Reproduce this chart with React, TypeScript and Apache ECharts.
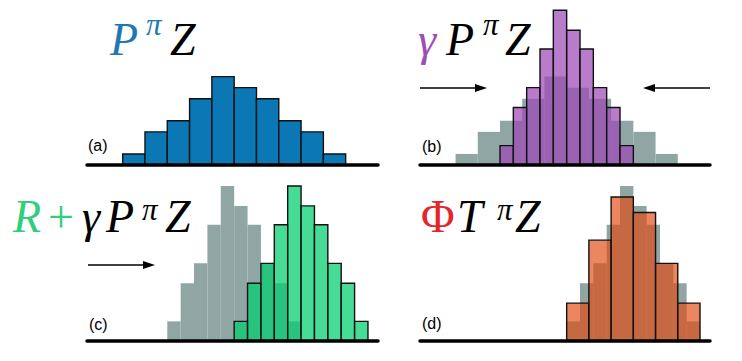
import React, { useEffect, useRef } from "react";
import * as echarts from "echarts";

// ---------- data (bin edges in support units, heights in probability units) ----------
const edgesA = [-5, -4, -3, -2, -1, 0, 1, 2, 3, 4, 5];
const valuesA = [1, 3, 4, 6, 8, 7, 6, 4, 3, 1];

const edgesBGrey = [-5, -4, -3, -2, -1, 0, 1, 2, 3, 4, 5];
const valuesBGrey = [1, 3, 4, 6, 8, 7, 6, 4, 3, 1];
const edgesBPurple = [-3, -2.4, -1.8, -1.2, -0.6, 0, 0.6, 1.2, 1.8, 2.4, 3];
const valuesBPurple = [1.75, 5.2, 7, 10.5, 14, 12.2, 10.5, 7, 5.2, 1.75];

const edgesCGrey = [-3, -2.4, -1.8, -1.2, -0.6, 0, 0.6, 1.2, 1.8, 2.4, 3];
const valuesCGrey = [1.75, 5.2, 7, 10.5, 14, 12.2, 10.5, 7, 5.2, 1.75];
const edgesCGreen = [0, 0.6, 1.2, 1.8, 2.4, 3, 3.6, 4.2, 4.8, 5.4, 6];
const valuesCGreen = [1.75, 5.2, 7, 10.5, 14, 12.2, 10.5, 7, 5.2, 1.75];

const edgesDGrey = [0, 0.6, 1.2, 1.8, 2.4, 3, 3.6, 4.2, 4.8, 5.4, 6];
const valuesDGrey = [1.75, 5.2, 7, 10.5, 14, 12.2, 10.5, 7, 5.2, 1.75];
const edgesDOrange = [0, 1, 2, 3, 4, 5, 6];
const valuesDOrange = [3.4, 9.1, 13, 11.6, 7, 3.4];

const panelLabels = ["(a)", "(b)", "(c)", "(d)"];

const X_MIN = -6.6;
const X_MAX = 6.45;
const Y_MAX = 14;

const GREY = "#8fa6a5";
const BLUE = "#0b77b4";
const PURPLE = "rgba(158,74,183,0.72)";
const GREEN = "rgba(0,206,110,0.72)";
const ORANGE = "rgba(226,72,14,0.66)";

function toBins(edges: number[], values: number[]) {
  return values.map((v, i) => [edges[i], edges[i + 1], v]);
}

function bars(grid: number, data: number[][], fill: string, outline: boolean, z: number) {
  return {
    type: "custom",
    xAxisIndex: grid,
    yAxisIndex: grid,
    z,
    data,
    renderItem: (_params: any, api: any) => {
      const x0 = api.value(0);
      const x1 = api.value(1);
      const h = api.value(2);
      const p0 = api.coord([x0, h]);
      const p1 = api.coord([x1, 0]);
      return {
        type: "rect",
        shape: { x: p0[0], y: p0[1], width: p1[0] - p0[0], height: p1[1] - p0[1] },
        style: {
          fill,
          stroke: outline ? "#111" : "none",
          lineWidth: outline ? 1.4 : 0,
        },
      };
    },
  };
}

const SERIF = "Liberation Serif";
const FS = 46;
const SUP = 31;

function t(text: string, x: number, baseline: number, fill: string, size: number, italic: boolean) {
  return {
    type: "text",
    x,
    y: baseline - 0.3375 * size,
    z: 20,
    style: {
      text,
      fill,
      font: (italic ? "italic " : "") + size + "px " + SERIF,
      align: "left",
      verticalAlign: "middle",
    },
  };
}

function label(text: string, x: number, yMid: number) {
  return {
    type: "text",
    x,
    y: yMid,
    z: 20,
    style: {
      text,
      fill: "#000",
      font: "16px Liberation Sans",
      align: "left",
      verticalAlign: "middle",
    },
  };
}

function arrow(x0: number, x1: number, y: number) {
  const dir = x1 > x0 ? 1 : -1;
  const hx = x1 - dir * 12;
  return [
    { type: "line", z: 20, shape: { x1: x0, y1: y, x2: hx, y2: y }, style: { stroke: "#000", lineWidth: 1.3 } },
    {
      type: "polygon",
      z: 20,
      shape: { points: [[hx, y - 4], [x1, y], [hx, y + 4]] },
      style: { fill: "#000" },
    },
  ];
}

const grids = [
  { left: 87, top: 10.3, width: 291, height: 154.7 },
  { left: 420, top: 10.3, width: 290, height: 154.7 },
  { left: 87, top: 186, width: 291, height: 154.7 },
  { left: 420, top: 186, width: 290, height: 154.7 },
];

export default function App() {
  const ref = useRef<HTMLDivElement>(null);
  useEffect(() => {
    if (!ref.current) return;
    const chart = echarts.init(ref.current, undefined, { renderer: "svg" });
    const option: any = {
      animation: false,
      backgroundColor: "#fff",
      grid: grids,
      xAxis: grids.map((_, i) => ({
        type: "value",
        gridIndex: i,
        min: X_MIN,
        max: X_MAX,
        z: 10,
        axisLine: { show: true, lineStyle: { color: "#000", width: 3.5 } },
        axisTick: { show: false },
        axisLabel: { show: false },
        splitLine: { show: false },
      })),
      yAxis: grids.map((_, i) => ({
        type: "value",
        gridIndex: i,
        min: 0,
        max: Y_MAX,
        show: false,
        splitLine: { show: false },
      })),
      series: [
        bars(0, toBins(edgesA, valuesA), BLUE, true, 3),
        bars(1, toBins(edgesBGrey, valuesBGrey), GREY, false, 2),
        bars(1, toBins(edgesBPurple, valuesBPurple), PURPLE, true, 3),
        bars(2, toBins(edgesCGrey, valuesCGrey), GREY, false, 2),
        bars(2, toBins(edgesCGreen, valuesCGreen), GREEN, true, 3),
        bars(3, toBins(edgesDGrey, valuesDGrey), GREY, false, 2),
        bars(3, toBins(edgesDOrange, valuesDOrange), ORANGE, true, 3),
      ],
      graphic: [
        // (a) P^π Z
        t("P", 110, 55, "#1f77b4", FS, true),
        t("π", 146, 35, "#1f77b4", SUP, true),
        t("Z", 170, 55, "#000", FS, true),
        // (b) γ P^π Z
        t("γ", 418, 55, "#9d4db8", FS, true),
        t("P", 446, 55, "#000", FS, true),
        t("π", 483, 35, "#000", SUP, true),
        t("Z", 505, 55, "#000", FS, true),
        // (c) R + γ P^π Z
        t("R", 13, 232, "#2fcf7d", FS, true),
        t("+", 48, 232, "#2fcf7d", FS, false),
        t("γ", 82, 232, "#000", FS, true),
        t("P", 106, 232, "#000", FS, true),
        t("π", 142, 220, "#000", SUP, true),
        t("Z", 165, 232, "#000", FS, true),
        // (d) Φ T^π Z
        t("Φ", 421, 232, "#e3262b", FS, false),
        t("T", 457, 232, "#000", FS, true),
        t("π", 497, 220, "#000", SUP, true),
        t("Z", 515, 232, "#000", FS, true),
        label(panelLabels[0], 88, 145.5),
        label(panelLabels[1], 422, 146.5),
        label(panelLabels[2], 89, 324),
        label(panelLabels[3], 422, 323),
        ...arrow(420, 487, 88),
        ...arrow(710, 643, 88),
        ...arrow(88, 155, 265),
      ],
    };
    chart.setOption(option);
    return () => chart.dispose();
  }, []);
  return (
    <div
      ref={ref}
      style={{ position: "fixed", left: 0, top: 0, width: 742, height: 361 }}
    />
  );
}
